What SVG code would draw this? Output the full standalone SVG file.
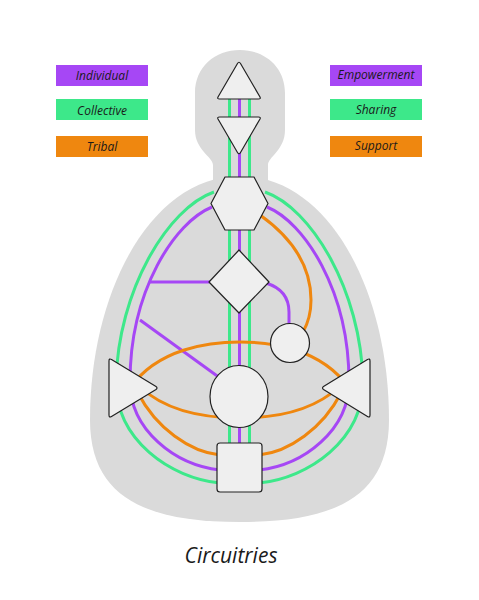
<svg xmlns="http://www.w3.org/2000/svg" width="479" height="600" viewBox="0 0 479 600">
<style>
.lg{font-family:"Open Sans","Liberation Sans",sans-serif;font-style:italic;font-size:12px;fill:#1a1a1a;text-anchor:middle}
.nd{fill:#efefef;stroke:#222;stroke-width:1.2;stroke-linejoin:round}
.pu{stroke:#a647f5;fill:none;stroke-width:3}
.gr{stroke:#3de88a;fill:none;stroke-width:3}
.or{stroke:#ef870f;fill:none;stroke-width:3}
</style>
<rect width="479" height="600" fill="#ffffff"/>
<g id="body">
<path d="M213,185 L213,165 C213,157 195,150 195,130 L195,93 C195,67 215,50 240,50 C265,50 285,67 285,93 L285,130 C285,150 268,157 268,165 L268,185 Z" fill="#dadada"/>
<path d="M240,176 C152,176 90,290 90,420 C90,500 150,522 240,522 C330,522 389,500 389,420 C389,290 328,176 240,176 Z" fill="#dadada"/>
</g>
<g id="legend">
<rect x="56" y="65" width="92" height="21" fill="#a647f5"/>
<text class="lg" x="102" y="80">Individual</text>
<rect x="56" y="99" width="92" height="21" fill="#3de88a"/>
<text class="lg" x="102" y="115">Collective</text>
<rect x="56" y="136" width="92" height="21" fill="#ef870f"/>
<text class="lg" x="102" y="151">Tribal</text>
<rect x="330" y="65" width="92" height="21" fill="#a647f5"/>
<text class="lg" x="376" y="79">Empowerment</text>
<rect x="330" y="99" width="92" height="21" fill="#3de88a"/>
<text class="lg" x="376" y="114">Sharing</text>
<rect x="330" y="136" width="92" height="21" fill="#ef870f"/>
<text class="lg" x="376" y="150">Support</text>
</g>
<g id="connectors">
<line class="gr" x1="229.5" y1="95" x2="229.5" y2="450"/>
<line class="gr" x1="249.5" y1="95" x2="249.5" y2="450"/>
<line class="pu" x1="239.5" y1="95" x2="239.5" y2="450"/>
<path class="gr" d="M214,192 C168,208 118,290 116,382 C116,440 170,478 220,483"/>
<path class="gr" d="M265,192 C311,208 361,290 363,382 C363,440 309,478 259,483"/>
<path class="pu" d="M212,207 C175,222 130,290 130,382 C130,430 175,465 220,470"/>
<path class="pu" d="M267,207 C304,222 349,290 349,382 C349,430 304,465 259,470"/>
<path class="pu" d="M150,282 L212,282"/>
<path class="pu" d="M140,320 L220,378"/>
<path class="pu" d="M266,283 C282,288 289,298 289,312 L289,326"/>
<path class="or" d="M260,215 C295,240 311,268 311,300 C311,315 307,325 303,332"/>
<path class="or" d="M130,388 C158,348 210,342 240,342 C270,342 321,348 349,388"/>
<path class="or" d="M140,387 C165,410 200,418 240,418 C279,418 314,410 339,387"/>
<path class="or" d="M138,393 C156,428 190,452 220,455"/>
<path class="or" d="M341,393 C323,428 289,452 259,455"/>
</g>
<g id="n_head"><path class="nd" d="M237.5,63.5 Q239,61 240.5,63.5 L260,97 Q261,99 258.5,99 L219.5,99 Q217,99 218,97 Z"/></g>
<g id="n_ajna"><path class="nd" d="M219.5,117 L258.5,117 Q261,117 260,119 L240.5,152.5 Q239,155 237.5,152.5 L218,119 Q217,117 219.5,117 Z"/></g>
<g id="n_throat"><path class="nd" d="M225,177 L254,177 L268,203.5 L254,230 L225,230 L211,203.5 Z"/></g>
<g id="n_g"><path class="nd" d="M239,250 L269,282 L239,313 L209,282 Z"/></g>
<g id="n_heart"><circle class="nd" cx="290" cy="343" r="19.5"/></g>
<g id="n_sacral"><ellipse class="nd" cx="239" cy="396.5" rx="29" ry="31"/></g>
<g id="n_spleen"><path class="nd" d="M111.5,359.5 L156,386.5 Q158,388 156,389.5 L111.5,416.5 Q109,418 109,415 L109,361 Q109,358 111.5,359.5 Z"/></g>
<g id="n_solar"><path class="nd" d="M367.5,359.5 Q370,358 370,361 L370,415 Q370,418 367.5,416.5 L323.5,389.5 Q321.5,388 323.5,386.5 Z"/></g>
<g id="n_root"><rect class="nd" x="217" y="443" width="45" height="49" rx="3"/></g>
<text x="231" y="563" font-family="Open Sans, Liberation Sans, sans-serif" font-style="italic" font-size="21" fill="#1a1a1a" text-anchor="middle">Circuitries</text>
</svg>
